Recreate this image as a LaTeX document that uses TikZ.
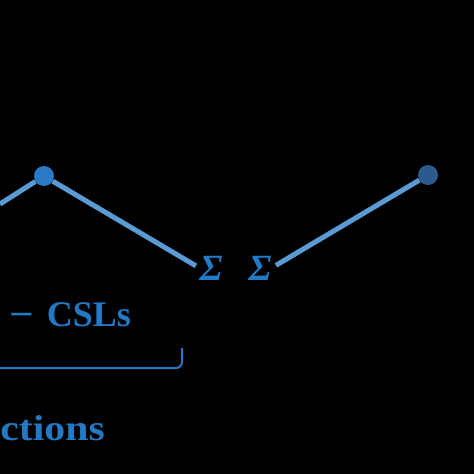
\documentclass[tikz,border=0pt]{standalone}
\usepackage{fontspec}
\setmainfont{Liberation Serif}
\definecolor{edgeblue}{HTML}{5B9BD5}
\definecolor{textblue}{HTML}{2479C4}
\definecolor{dotblue}{HTML}{2A7AC8}
\definecolor{dotdark}{HTML}{2B5A8C}
\begin{document}
\begin{tikzpicture}[x=1pt, y=-1pt,
    edge/.style={draw=edgeblue, line width=5pt},
    dot/.style={circle, minimum size=20pt, inner sep=0pt},
    sigma/.style={text=textblue, font=\fontsize{37}{40}\selectfont\bfseries\itshape, inner sep=0pt},
    label/.style={text=textblue, font=\fontsize{36}{40}\selectfont\bfseries, inner sep=0pt}]
  \fill [black] (0,0) rectangle (474,474);
  \useasboundingbox (0,0) rectangle (474,474);
  \coordinate (leftend) at (0,204);
  \node [dot, fill=dotblue] (dotleft) at (44,176) {};
  \node [dot, fill=dotdark] (dotright) at (428,175) {};
  \node [sigma, anchor=base] (sigmaA) at (211,280) {Σ};
  \node [sigma, anchor=base] (sigmaB) at (260,280) {Σ};
  \draw [edge] (leftend) -- (dotleft);
  \draw [edge, shorten >=4pt] (dotleft) -- (sigmaA.west);
  \draw [edge, shorten <=5pt] (sigmaB.east) -- (dotright);
  \node [label, anchor=base east] (csls) at (131,326) {\scalebox{1.2}[1]{−}\hspace{13pt}CSLs};
  \coordinate (braceL) at (0,368);
  \coordinate (braceR) at (182,348);
  \draw [textblue, line width=2pt, rounded corners=6pt] (braceL) -| (braceR);
  \node [label, anchor=base east] (tions) at (105,440) {\scalebox{1.16}[1]{ctions}};
\end{tikzpicture}
\end{document}
